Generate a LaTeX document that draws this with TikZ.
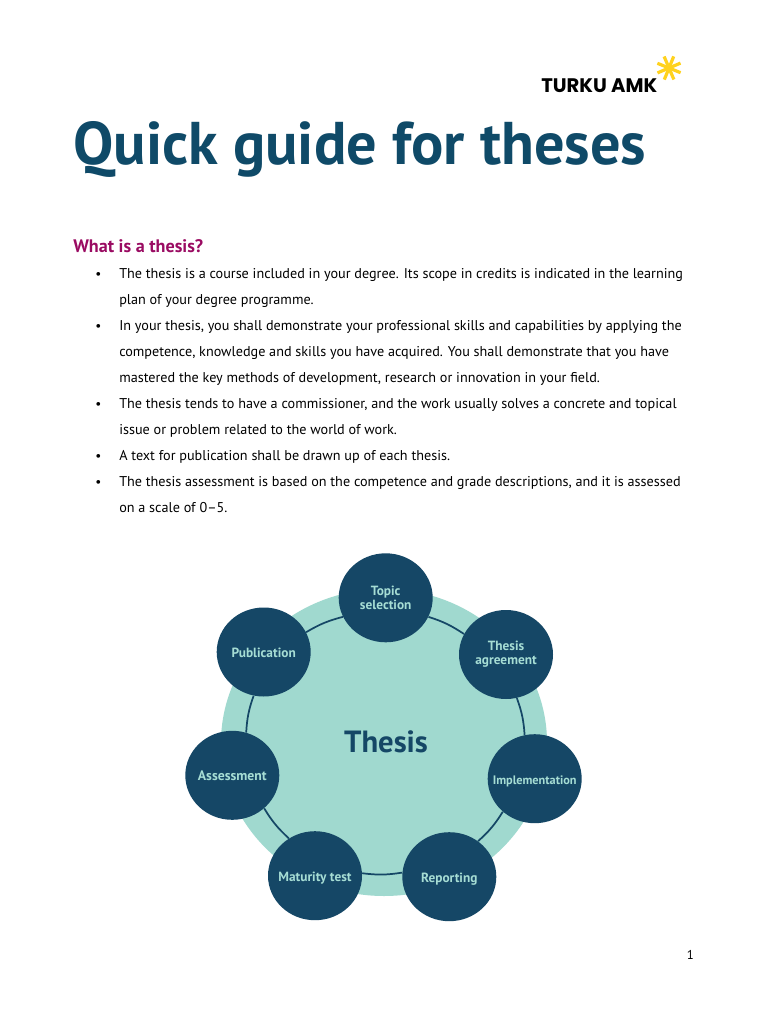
\documentclass[tikz,border=0pt]{standalone}
\usepackage{fontspec}
\usetikzlibrary{shapes.geometric}
\setmainfont{PT Sans}
\newfontfamily\logofont{Poppins}
\definecolor{titleblue}{HTML}{0F4A68}
\definecolor{headplum}{HTML}{9A0B62}
\definecolor{navy}{HTML}{154766}
\definecolor{teal}{HTML}{A0D9CF}
\definecolor{tealtext}{HTML}{A6DDD4}
\definecolor{sun}{HTML}{FFD21E}
\pgfdeclarelayer{disc}
\pgfdeclarelayer{arcs}
\pgfsetlayers{disc,arcs,main}
\tikzset{
  x=0.75pt,y=-0.75pt,
  stagenode/.style={ellipse,fill=navy,draw=none,minimum width=70.5pt,minimum height=66.75pt,inner sep=-15pt,align=center,
    text=tealtext,font=\fontsize{10}{10.6}\selectfont\bfseries},
  oneline/.style={text height=8pt,text depth=0pt},
  ring/.style={draw=navy,line width=1.3pt},
  bodyline/.style={anchor=base west,inner sep=0pt,font=\fontsize{10.64}{12}\selectfont,text=black},
  bulletmark/.style={anchor=base west,inner sep=0pt,font=\fontsize{10}{12}\selectfont,text=black},
  ray/.style={draw=sun,line width=2.4pt},
}
\begin{document}
\begin{tikzpicture}
\useasboundingbox (0,0) rectangle (768,1024);
\begin{pgfonlayer}{disc}
\fill[white] (0,0) rectangle (768,1024);
\fill[teal] (384,742.5) ellipse[x radius=163,y radius=153.5];
\end{pgfonlayer}
% logo
\node[anchor=base west,inner sep=0pt,font=\logofont\fontsize{14.7}{16}\selectfont\bfseries,text=black] (logo) at (541,92.5) {TURKU AMK};
\coordinate (star) at (669,68);
\foreach \a in {0,45,...,315}{\draw[ray] (star) -- ++(\a+22:12.5);}
% title
\node[anchor=base west,inner sep=0pt,font=\fontsize{45.2}{50}\selectfont\bfseries,text=titleblue] (title) at (73,164) {Quick guide for theses};
\node[anchor=base west,inner sep=0pt,font=\fontsize{13.6}{15}\selectfont\bfseries,text=headplum] (head) at (73,252.5) {What is a thesis?};
% bullets
\foreach \y in {278,330,408,460,486}{\node[bulletmark] at (95,\y) {•};}
\node[bodyline] (l1) at (119,278) {The thesis is a course included in your degree. Its scope in credits is indicated in the learning};
\node[bodyline] (l2) at (119,304) {plan of your degree programme.};
\node[bodyline] (l3) at (119,330) {In your thesis, you shall demonstrate your professional skills and capabilities by applying the};
\node[bodyline] (l4) at (119,356) {competence, knowledge and skills you have acquired. You shall demonstrate that you have};
\node[bodyline] (l5) at (119,382) {mastered the key methods of development, research or innovation in your field.};
\node[bodyline] (l6) at (119,408) {The thesis tends to have a commissioner, and the work usually solves a concrete and topical};
\node[bodyline] (l7) at (119,434) {issue or problem related to the world of work.};
\node[bodyline] (l8) at (119,460) {A text for publication shall be drawn up of each thesis.};
\node[bodyline] (l9) at (119,486) {The thesis assessment is based on the competence and grade descriptions, and it is assessed};
\node[bodyline] (l10) at (119,512) {on a scale of 0–5.};
% diagram
\node[font=\fontsize{23}{25}\selectfont\bfseries,text=navy,inner sep=0pt] (centre) at (386,742) {Thesis};
\node[stagenode] (topic) at (385.7,597.8) {Topic\\selection};
\node[stagenode] (agree) at (506,654.5) {Thesis\\agreement};
\node[stagenode,oneline,font=\fontsize{9.2}{10.6}\selectfont\bfseries] (impl) at (534.7,778.7) {Implementation};
\node[stagenode,oneline] (rep) at (449.3,876.7) {Reporting};
\node[stagenode,oneline] (mat) at (315,875.7) {Maturity test};
\node[stagenode,oneline,font=\fontsize{10.3}{10.6}\selectfont\bfseries] (ass) at (232.3,775.3) {Assessment};
\node[stagenode,oneline] (pub) at (263.7,652) {Publication};
\begin{pgfonlayer}{arcs}
\foreach \p/\pa/\q/\qa in {topic/-24.7/agree/154.3,agree/-76.4/impl/103.8,impl/-134/rep/51.7,rep/175.8/mat/3.7,mat/125/ass/-46.7,ass/72.6/pub/-103.8,pub/25.3/topic/204.8}{
  \draw[ring] (\p.\pa) to[bend left=8] (\q.\qa);
}
\end{pgfonlayer}
\node[anchor=base east,inner sep=0pt,font=\fontsize{9.6}{12}\selectfont] (page) at (694,959) {1};
\end{tikzpicture}
\end{document}
